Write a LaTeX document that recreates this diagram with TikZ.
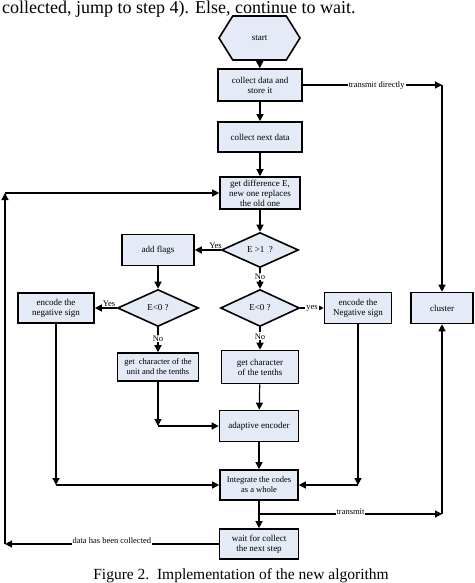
\documentclass[tikz,border=0pt]{standalone}
\usepackage{fontspec}
\setmainfont{Liberation Serif}
\usetikzlibrary{arrows.meta,shapes.geometric,shapes.symbols}
\definecolor{boxfill}{RGB}{228,234,246}
\tikzset{
  x=1pt,y=-1pt,
  box/.style={draw,line width=1.6pt,fill=boxfill,align=center,font=\fontsize{9}{10}\selectfont,inner sep=1pt,minimum width=#1},
  box/.default=80pt,
  dia/.style={draw,line width=1.6pt,fill=boxfill,shape=diamond,aspect=2.1,inner sep=0pt,minimum width=80pt,minimum height=37pt,font=\fontsize{9}{10}\selectfont},
  arr/.style={line width=1.2pt,-{Triangle[length=7pt,width=7pt]}},
  lab/.style={fill=white,inner sep=1pt,font=\fontsize{8.5}{10}\selectfont},
}
\begin{document}
\begin{tikzpicture}
\useasboundingbox (0,0) rectangle (474,583);
\node[anchor=base west,font=\fontsize{18}{20}\selectfont,inner sep=0pt] (top) at (2,13.5) {collected, jump to step 4). Else, continue to wait.};
\node[anchor=base,font=\fontsize{15.5}{18}\selectfont,inner sep=0pt] (cap) at (241,579) {Figure 2.\ \ Implementation of the new algorithm};

\node[draw,line width=1.6pt,fill=boxfill,shape=signal,signal to=east and west,signal pointer angle=116,minimum width=81pt,minimum height=44pt,inner sep=0pt,font=\fontsize{9}{10}\selectfont] (start) at (259.5,38) {start};
\node[box=84pt,minimum height=32pt] (b1) at (260,85) {collect data and\\store it};
\node[box=84pt,minimum height=30pt] (b2) at (260,137) {collect next data};
\node[box=80pt,minimum height=32pt] (b3) at (260,193) {get difference E,\\new one replaces\\the old one};
\node[dia,minimum width=77pt,minimum height=35pt] (d1) at (260,250) {E >1\ \ ?};
\node[box=72pt,minimum height=31pt] (flags) at (158,250) {add flags};
\node[dia,minimum width=81pt] (d2) at (158,308) {E<0\ ?};
\node[dia,minimum width=79pt] (d3) at (260,308) {E<0\ ?};
\node[box=76pt,minimum height=30pt] (neg1) at (56,308) {encode the\\negative sign};
\node[box=67pt,minimum height=31pt] (neg2) at (358,308) {encode the\\Negative sign};
\node[box=62pt,minimum height=31pt] (cluster) at (442,308) {cluster};
\node[box=81pt,minimum height=28pt,font=\fontsize{8.5}{10}\selectfont] (unit) at (158,367) {get\ \ character of the\\unit and the tenths};
\node[box=77pt,minimum height=33pt] (tenths) at (260,367) {get character\\of the tenths};
\node[box=79pt,minimum height=31pt] (enc) at (259,426) {adaptive encoder};
\node[box=78pt,minimum height=30pt,font=\fontsize{8.5}{10}\selectfont] (integ) at (259,485) {Integrate the codes\\as a whole};
\node[box=79pt,minimum height=30pt] (wait) at (259,544) {wait for collect\\the next step};

\coordinate (c1) at (158,426);
\coordinate (c2) at (56,485);
\coordinate (c3) at (358,485);
\coordinate (c4) at (442,85);
\coordinate (c5) at (259,514);
\coordinate (c6) at (442,514);
\coordinate (c7) at (5,544);
\coordinate (c8) at (5,193);

\draw[arr] (start) -- (b1);
\draw[arr] (b1) -- (b2);
\draw[arr] (b2) -- (b3);
\draw[arr] (b3) -- (d1);
\draw[arr] (d1.west) -- node[pos=0.2,above,inner sep=1pt,font=\fontsize{8.5}{10}\selectfont] {Yes} (flags.east);
\draw[arr] (flags) -- (d2.north);
\draw[arr] (d1.south) -- node[lab,pos=0.4] {No} (d3.north);
\draw[arr] (d2.west) -- node[pos=0.35,above,inner sep=1pt,font=\fontsize{8.5}{10}\selectfont] {Yes} (neg1.east);
\draw[arr] (d2.south) -- node[lab,pos=0.45] {No} (unit.north);
\draw[arr] (d3.east) -- node[lab,pos=0.5] {yes} (neg2.west);
\draw[arr] (d3.south) -- node[lab,pos=0.4] {No} (tenths.north);
\draw[arr] (unit.south) -- (c1);
\draw[arr] (c1) -- (enc.west);
\draw[arr] (tenths) -- (enc);
\draw[arr] (neg1.south) -- (c2);
\draw[arr] (c2) -- (integ.west);
\draw[arr] (neg2.south) -- (c3);
\draw[arr] (c3) -- (integ.east);
\draw[arr] (enc) -- (integ);
\draw[arr] (integ) -- (wait);
\draw[arr] (b1.east) -- node[lab,pos=0.53] {transmit directly} (c4);
\draw[arr] (c4) -- (cluster.north);
\draw[arr] (c5) -- node[lab,pos=0.5,yshift=2pt] {transmit} (c6);
\draw[arr] (c6) -- (cluster.south);
\draw[arr] (wait.west) -- node[lab,pos=0.5,yshift=3pt] {data has been collected} (c7);
\draw[arr] (c7) -- (c8);
\draw[arr] (c8) -- (b3.west);
\end{tikzpicture}
\end{document}
